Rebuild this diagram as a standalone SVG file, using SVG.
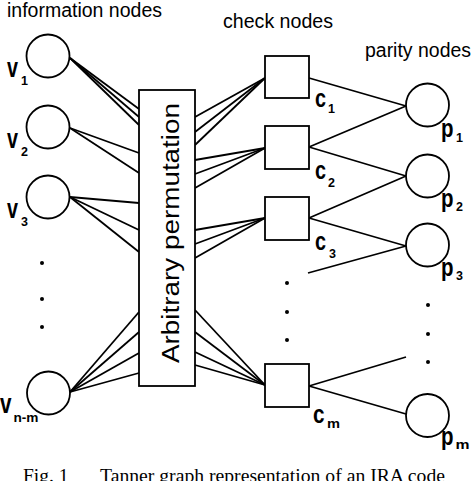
<svg xmlns="http://www.w3.org/2000/svg" width="474" height="481" viewBox="0 0 474 481">
<style>
.shape{fill:#fff;stroke:#000;stroke-width:1.8}
.edge{stroke:#000;stroke-width:1.8;fill:none}
.title{font-family:"Liberation Sans",Arial,sans-serif;font-size:19.5px;fill:#000}
.lbl{font-family:"Liberation Sans",Arial,sans-serif;font-weight:bold;fill:#000}
.big{font-size:26px}
.vb{font-size:28px}
.sub{font-size:12.5px}
.dot{fill:#000}
.cap{font-family:"Liberation Serif","Times New Roman",serif;font-size:19.5px;fill:#000}
</style>
<rect width="474" height="481" fill="#fff"/>
<text class="title" x="7" y="17" textLength="155" lengthAdjust="spacingAndGlyphs">information nodes</text>
<text class="title" x="223" y="28" textLength="110" lengthAdjust="spacingAndGlyphs">check nodes</text>
<text class="title" x="365" y="57" textLength="106" lengthAdjust="spacingAndGlyphs">parity nodes</text>

<g id="connectors">
<line class="edge" x1="70" y1="58" x2="139" y2="109"/>
<line class="edge" x1="70" y1="58" x2="139" y2="117"/>
<line class="edge" x1="70" y1="58" x2="139" y2="125"/>
<line class="edge" x1="70" y1="128" x2="139" y2="153"/>
<line class="edge" x1="70" y1="128" x2="139" y2="173"/>
<line class="edge" x1="70" y1="197" x2="139" y2="203"/>
<line class="edge" x1="70" y1="197" x2="139" y2="230"/>
<line class="edge" x1="70" y1="197" x2="139" y2="252"/>
<line class="edge" x1="70" y1="392" x2="139" y2="312"/>
<line class="edge" x1="70" y1="392" x2="139" y2="332"/>
<line class="edge" x1="70" y1="392" x2="139" y2="353"/>
<line class="edge" x1="70" y1="392" x2="139" y2="373"/>
<line class="edge" x1="195" y1="117" x2="265" y2="78"/>
<line class="edge" x1="195" y1="132" x2="265" y2="78"/>
<line class="edge" x1="195" y1="145" x2="265" y2="78"/>
<line class="edge" x1="195" y1="160" x2="265" y2="148"/>
<line class="edge" x1="195" y1="174" x2="265" y2="148"/>
<line class="edge" x1="195" y1="188" x2="265" y2="148"/>
<line class="edge" x1="195" y1="230" x2="265" y2="218"/>
<line class="edge" x1="195" y1="244" x2="265" y2="218"/>
<line class="edge" x1="195" y1="258" x2="265" y2="218"/>
<line class="edge" x1="195" y1="310" x2="265" y2="385"/>
<line class="edge" x1="195" y1="332" x2="265" y2="385"/>
<line class="edge" x1="195" y1="352" x2="265" y2="385"/>
<line class="edge" x1="195" y1="365" x2="265" y2="385"/>
<line class="edge" x1="309" y1="78" x2="406" y2="106"/>
<line class="edge" x1="309" y1="147" x2="406" y2="106"/>
<line class="edge" x1="309" y1="147" x2="406" y2="176"/>
<line class="edge" x1="309" y1="218" x2="406" y2="176"/>
<line class="edge" x1="309" y1="218" x2="406" y2="246"/>
<line class="edge" x1="308" y1="273" x2="406" y2="246"/>
<line class="edge" x1="309" y1="386" x2="406" y2="357"/>
<line class="edge" x1="309" y1="386" x2="406" y2="414"/>
</g>

<g id="perm">
<rect class="shape" x="139" y="90" width="56" height="296"/>
<text class="lbl" style="font-weight:normal;font-size:23.5px" transform="translate(179,233) rotate(-90)" text-anchor="middle" textLength="260" lengthAdjust="spacingAndGlyphs">Arbitrary permutation</text>
</g>

<g id="v1"><circle class="shape" cx="48" cy="56" r="21.5"/>
<text class="lbl vb" x="7" y="77" textLength="11" lengthAdjust="spacingAndGlyphs">v</text><text class="lbl sub" x="21" y="85">1</text></g>
<g id="v2"><circle class="shape" cx="48" cy="127" r="21.5"/>
<text class="lbl vb" x="7" y="148" textLength="11" lengthAdjust="spacingAndGlyphs">v</text><text class="lbl sub" x="21" y="156">2</text></g>
<g id="v3"><circle class="shape" cx="48" cy="197" r="21.5"/>
<text class="lbl vb" x="7" y="218" textLength="11" lengthAdjust="spacingAndGlyphs">v</text><text class="lbl sub" x="21" y="226">3</text></g>
<g id="vdots"><circle class="dot" cx="42" cy="263" r="2"/><circle class="dot" cx="42" cy="299" r="2"/><circle class="dot" cx="42" cy="327" r="2"/></g>
<g id="vnm"><circle class="shape" cx="48.5" cy="393" r="21.5"/>
<text class="lbl vb" x="0" y="413" textLength="11.5" lengthAdjust="spacingAndGlyphs">v</text><text class="lbl sub" x="13.5" y="422" textLength="25" lengthAdjust="spacingAndGlyphs">n-m</text></g>

<g id="c1"><rect class="shape" x="265" y="56" width="44" height="42"/>
<text class="lbl big" x="315" y="107" textLength="11" lengthAdjust="spacingAndGlyphs">c</text><text class="lbl sub" x="328" y="113">1</text></g>
<g id="c2"><rect class="shape" x="265" y="126" width="44" height="43"/>
<text class="lbl big" x="315" y="179" textLength="11" lengthAdjust="spacingAndGlyphs">c</text><text class="lbl sub" x="328" y="187">2</text></g>
<g id="c3"><rect class="shape" x="265" y="197" width="44" height="43"/>
<text class="lbl big" x="315" y="250" textLength="11" lengthAdjust="spacingAndGlyphs">c</text><text class="lbl sub" x="329" y="258">3</text></g>
<g id="cdots"><circle class="dot" cx="287" cy="283" r="2"/><circle class="dot" cx="287" cy="312" r="2"/><circle class="dot" cx="287" cy="340" r="2"/></g>
<g id="cm"><rect class="shape" x="265" y="364" width="44" height="43"/>
<text class="lbl big" x="313" y="423" textLength="11.5" lengthAdjust="spacingAndGlyphs">c</text><text class="lbl sub" x="327" y="428" textLength="13" lengthAdjust="spacingAndGlyphs">m</text></g>

<g id="p1"><circle class="shape" cx="427.5" cy="105" r="21.5"/>
<text class="lbl big" x="441" y="137" textLength="12.5" lengthAdjust="spacingAndGlyphs">p</text><text class="lbl sub" x="456" y="142">1</text></g>
<g id="p2"><circle class="shape" cx="427.5" cy="176" r="21.5"/>
<text class="lbl big" x="441" y="207" textLength="12.5" lengthAdjust="spacingAndGlyphs">p</text><text class="lbl sub" x="456" y="211">2</text></g>
<g id="p3"><circle class="shape" cx="427.5" cy="245" r="21.5"/>
<text class="lbl big" x="441" y="276" textLength="12.5" lengthAdjust="spacingAndGlyphs">p</text><text class="lbl sub" x="456" y="280">3</text></g>
<g id="pdots"><circle class="dot" cx="428" cy="305" r="2"/><circle class="dot" cx="428" cy="334" r="2"/><circle class="dot" cx="428" cy="362" r="2"/></g>
<g id="pm"><circle class="shape" cx="427.5" cy="415.5" r="21.5"/>
<text class="lbl big" x="441" y="445" textLength="12.5" lengthAdjust="spacingAndGlyphs">p</text><text class="lbl sub" x="455.5" y="449" textLength="14" lengthAdjust="spacingAndGlyphs">m</text></g>

<text class="cap" x="23" y="482">Fig. 1</text>
<text class="cap" x="100" y="482" textLength="345" lengthAdjust="spacingAndGlyphs">Tanner graph representation of an IRA code</text>
</svg>
